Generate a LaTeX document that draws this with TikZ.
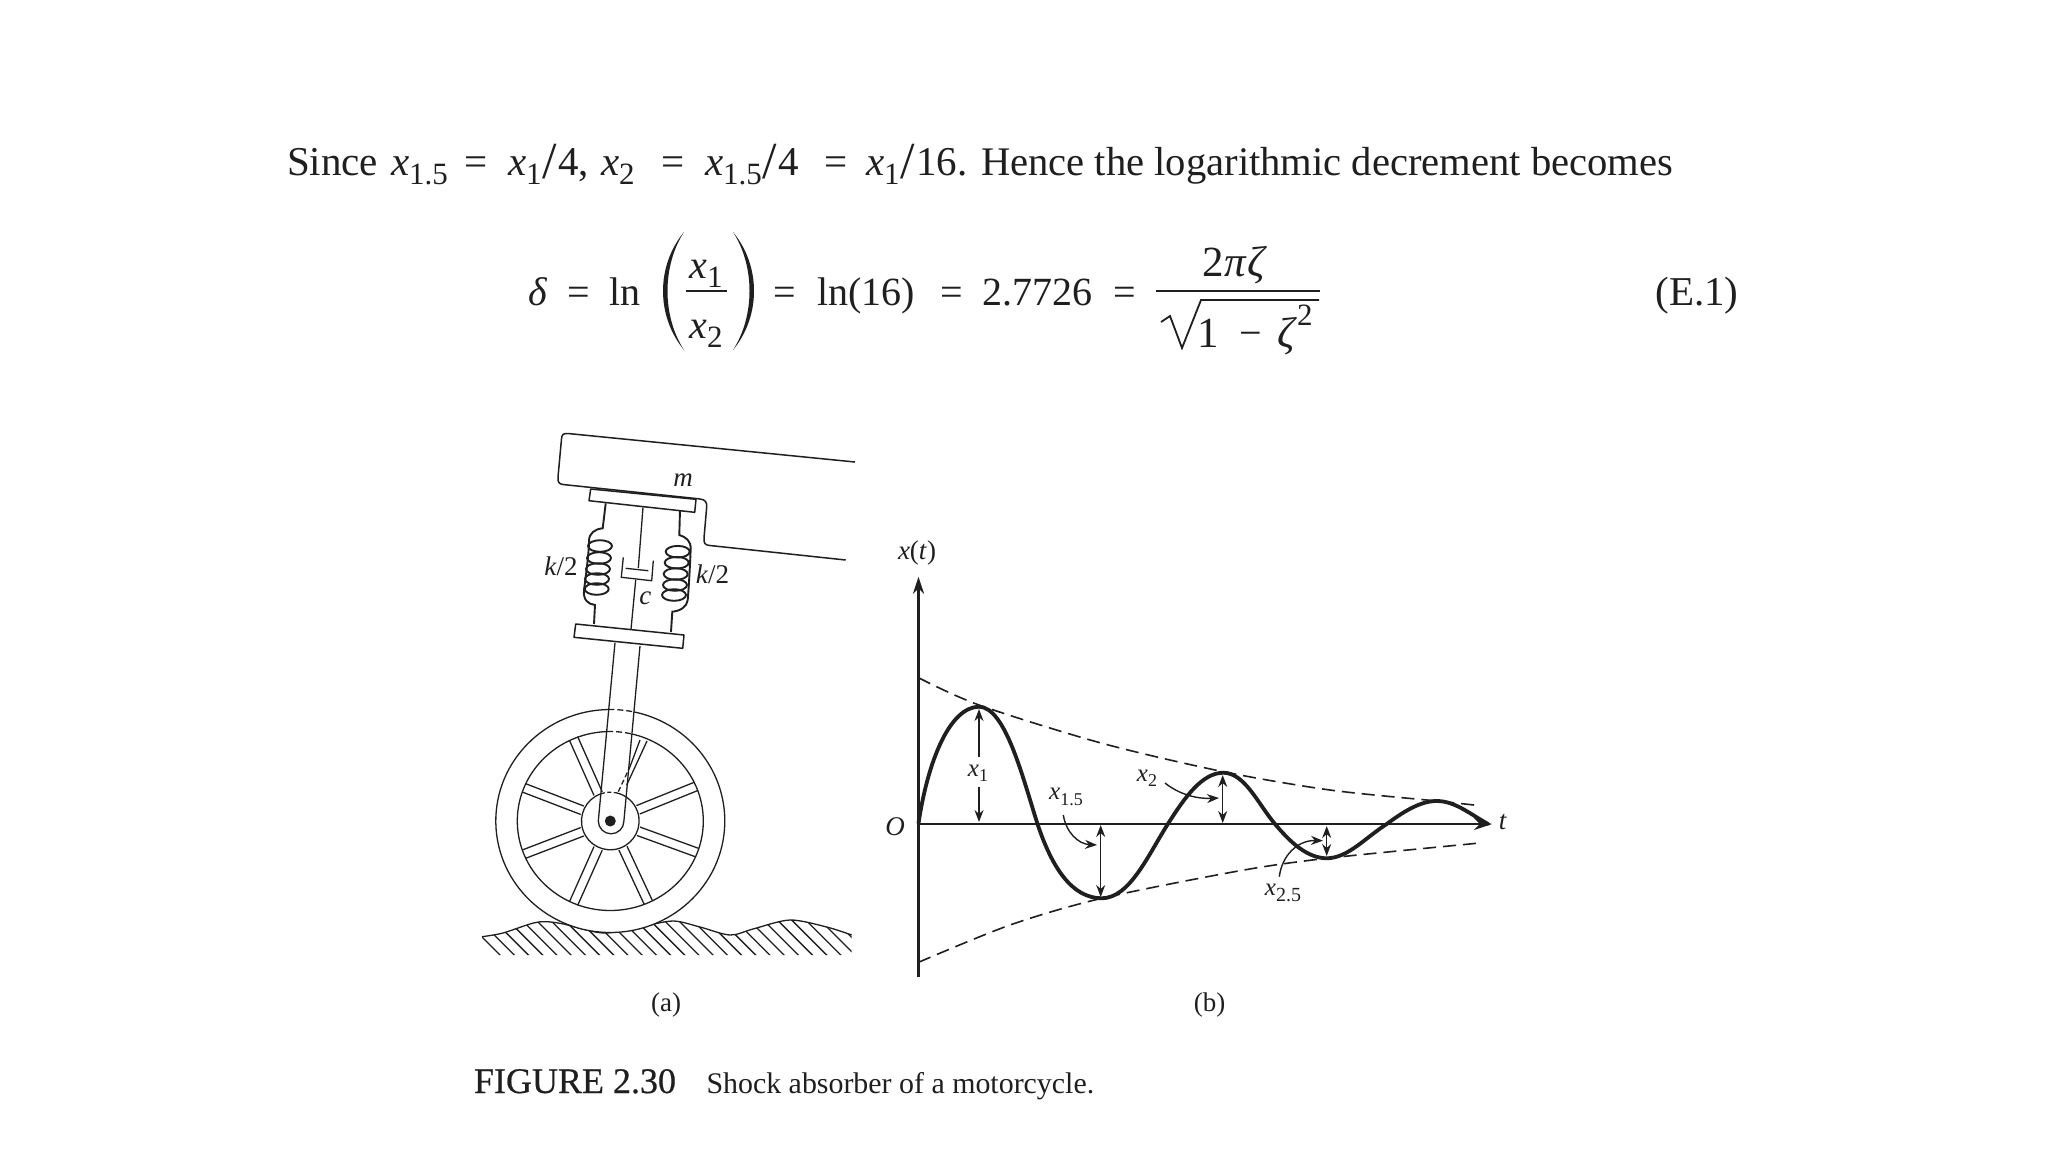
\documentclass[tikz,border=0pt]{standalone}
\usepackage{fontspec}
\setmainfont{Liberation Serif}
\usetikzlibrary{arrows.meta,calc}
\newcommand{\vi}[1]{\textit{#1}}
\newcommand{\fsz}[1]{\fontsize{#1}{#1}\selectfont}
\newcommand{\lsub}[1]{\raisebox{-0.24em}{\fontsize{31}{31}\selectfont #1}}
\newcommand{\bsl}{\kern1pt\raisebox{-0.09em}{\fontsize{52}{52}\selectfont /}\kern1pt}
\newcommand{\gsub}[1]{\raisebox{-0.22em}{\fontsize{18}{18}\selectfont #1}}
\definecolor{ink}{gray}{0.12}
\tikzset{
  every node/.style={inner sep=0pt,outer sep=0pt,text=ink},
  body/.style={draw=ink,line width=1.5pt,line join=round},
  spr/.style={draw=ink,line width=1.9pt},
  thin line/.style={draw=ink,line width=1.3pt},
  maintxt/.style={font=\fsz{41},anchor=base west},
  eqtxt/.style={font=\fsz{40},anchor=base},
  eqsm/.style={font=\fsz{40},anchor=base},
  lab/.style={font=\fsz{27}},
  glab/.style={font=\fsz{25}},
  subcap/.style={font=\fsz{27}},
  axisline/.style={draw=ink,line width=2.8pt},
  resp/.style={draw=ink,line width=3.8pt},
  env/.style={draw=ink,line width=1.6pt,dash pattern=on 13pt off 7pt},
  dim/.style={draw=ink,line width=1.4pt,{Stealth[length=12pt,width=9pt]}-{Stealth[length=12pt,width=9pt]}},
  dimtip/.style={draw=ink,line width=1.4pt,-{Stealth[length=12pt,width=9pt]}},
  rulerm/.style={draw=ink,line width=1.8pt},
  wheelarc/.style={x radius=114.5,y radius=111.5},
  rimarc/.style={x radius=93,y radius=89.5},
}
\begin{document}
\begin{tikzpicture}[x=1pt,y=-1pt]
\useasboundingbox (0,0) rectangle (2048,1152);
\fill[white] (0,0) rectangle (2048,1152);
% text
\node[maintxt] (since) at (287,175) {Since};
\node[maintxt] (t1) at (391,175) {\vi{x}\lsub{1.5}};
\node[eqtxt,font=\fsz{41}] (e1) at (476,175) {=};
\node[maintxt] (t2) at (508,175) {\vi{x}\lsub{1}\bsl 4,};
\node[maintxt] (t3) at (601,175) {\vi{x}\lsub{2}};
\node[eqtxt,font=\fsz{41}] (e2) at (673,175) {=};
\node[maintxt] (t4) at (705,175) {\vi{x}\lsub{1.5}\bsl 4};
\node[eqtxt,font=\fsz{41}] (e3) at (836,175) {=};
\node[maintxt] (t5) at (866,175) {\vi{x}\lsub{1}\bsl 16.};
\node[maintxt,font=\fsz{40.6}] (hence) at (981,175) {Hence the logarithmic decrement becomes};
\node[eqtxt] (delta) at (538,305) {\vi{δ}};
\node[eqtxt] (eqa) at (579,305) {=};
\node[eqtxt] (lna) at (625,305) {ln};
\node[eqsm] (xa) at (706,278) {\vi{x}\lsub{1}};
\node[eqsm] (xb) at (706,338) {\vi{x}\lsub{2}};
\draw[rulerm] (686,291) -- (727,291);
\fill[ink] (684,232) .. controls (656,266) and (656,316) .. (684,350) .. controls (662,316) and (662,266) .. (684,232) -- cycle;
\fill[ink] (733,232) .. controls (761,266) and (761,316) .. (733,350) .. controls (755,316) and (755,266) .. (733,232) -- cycle;
\node[eqtxt] (eqb) at (785,305) {=};
\node[eqtxt] (ln16) at (866,305) {ln(16)};
\node[eqtxt] (eqc) at (952,305) {=};
\node[eqtxt] (val) at (1037,305) {2.7726};
\node[eqtxt] (eqd) at (1125,305) {=};
\node[eqtxt,font=\fsz{43}] (num) at (1235,276) {2\vi{π}\kern1pt\vi{ζ}};
\draw[rulerm] (1156,291) -- (1320,291);
\draw[rulerm,line join=miter] (1161,322) -- (1170,316) -- (1182,348) -- (1201,300) -- (1319,300);
\node[eqtxt,font=\fsz{43}] (one) at (1208,347) {1};
\node[eqtxt] (minus) at (1251,346) {\,−\,};
\node[eqtxt,font=\fsz{43}] (zeta) at (1295,347) {\vi{ζ}\raisebox{0.5em}{\fsz{31}2}};
\node[eqtxt,font=\fsz{41}] (eqn) at (1697,305) {(E.1)};
% ground
\begin{scope}
\clip plot[smooth] coordinates {(482,936.7) (503,933) (536.7,922.3) (560,923.3) (603,933) (640,927) (673,921) (700,927) (730,935) (753,929) (790,920) (826.7,927) (851.7,935)} -- (851.7,955) -- (482,955) -- cycle;
\foreach \i in {0,...,28} {
  \draw[thin line] ({460+14.2*\i},915) -- ({505+14.2*\i},960);
}
\end{scope}
\draw[thin line] plot[smooth] coordinates {(482,936.7) (503,933) (536.7,922.3) (560,923.3) (603,933) (640,927) (673,921) (700,927) (730,935) (753,929) (790,920) (826.7,927) (851.7,935)};
% wheel
\coordinate (wc) at (610.3,821);
\fill[white] (wc) ellipse[x radius=114.5,y radius=111.5];
\foreach \a in {22,114,159,201,246,295,340} {
  \draw[thin line] (wc) ++ ({cos(\a)*30+sin(\a)*4.5},{-sin(\a)*30+cos(\a)*4.5}) -- ++ ({cos(\a)*(60+3*cos(\a)*cos(\a))},{-sin(\a)*(60+3*cos(\a)*cos(\a))});
  \draw[thin line] (wc) ++ ({cos(\a)*30-sin(\a)*4.5},{-sin(\a)*30-cos(\a)*4.5}) -- ++ ({cos(\a)*(60+3*cos(\a)*cos(\a))},{-sin(\a)*(60+3*cos(\a)*cos(\a))});
}
\draw[thin line] (626.7,785) -- (647,741);
\draw[thin line] (630,766.7) -- (640,740);
\draw[thin line,dash pattern=on 5pt off 3pt] (618.3,791.7) -- (630,766.7);
\draw[thin line] ($(wc)+({cos(91)*114.5},{-sin(91)*111.5})$) arc[start angle=-91,end angle=-438,wheelarc];
\draw[thin line,dash pattern=on 6pt off 3pt] ($(wc)+({cos(91)*114.5},{-sin(91)*111.5})$) arc[start angle=-91,end angle=-78,wheelarc];
\draw[thin line] ($(wc)+({cos(92)*93},{-sin(92)*89.5})$) arc[start angle=-92,end angle=-436.5,rimarc];
\draw[thin line,dash pattern=on 6pt off 3pt] ($(wc)+({cos(92)*93},{-sin(92)*89.5})$) arc[start angle=-92,end angle=-76.5,rimarc];
\draw[thin line] ($(wc)+(109:28.8 and -28.8)$) arc[start angle=-109,end angle=-437,radius=28.8];
\draw[thin line,dash pattern=on 4pt off 2.5pt] ($(wc)+(109:28.8 and -28.8)$) arc[start angle=-109,end angle=-77,radius=28.8];
\fill[ink] (wc) circle[radius=5.5];
% stem
\draw[thin line] (615,642.7) -- (598.3,821) arc[start angle=180,end angle=0,radius=12.8] -- (640,646);
% plates
\draw[body,fill=white] (590.7,489) -- (696,499.3) -- (694.7,512.3) -- (589,500.7) -- cycle;
\draw[body,fill=white] (575.7,624) -- (684,635) -- (682.7,648.3) -- (574,637.3) -- cycle;
% body
\draw[body] (855,462) -- (568,433.5) .. controls (563,433) and (561.7,435) .. (561.5,439) -- (558,477) .. controls (557.5,482) and (559,484) .. (563,484.5) -- (696,498.5) -- (700,499) .. controls (705,499.5) and (707,502) .. (706.7,507) -- (704,538) .. controls (703.6,543) and (705,545) .. (709,545.4) -- (845.7,560);
\node[lab] (mlabel) at (683,480) {\vi{m}};
% left spring
\draw[spr] (605.7,503.3) -- (602.7,528.3) .. controls (595,529) and (589,533) .. (589,541) .. controls (589,552) and (586,575) .. (584,590) .. controls (583,600) and (588,604) .. (595,605) -- (594,624);
\foreach \p in {(600,546),(599,558),(598,569),(597,579),(596.7,589)} {
  \draw[spr] \p ellipse[x radius=12,y radius=5.8];
}
% right spring
\draw[spr] (680,510) -- (679.3,535) .. controls (686,537) and (691,541) .. (690.7,549) .. controls (690,565) and (689,585) .. (687.7,600) .. controls (687,607) and (680,611) .. (672.3,611.7) -- (671,632);
\foreach \p in {(677.7,551.7),(676.7,562.7),(675.7,574),(675,585),(674,595)} {
  \draw[spr] \p ellipse[x radius=12,y radius=5.8];
}
% damper
\draw[thin line] (643,507.3) -- (638.3,568);
\draw[thin line] (625.7,568.3) -- (648.3,570.7);
\draw[thin line] (623.3,557.3) -- (621.3,577.3) -- (651.7,580.7) -- (653.3,560.7);
\draw[thin line] (635.7,580) -- (631,629.3);
\node[lab] (kl) at (561,566) {\vi{k}/2};
\node[lab] (kr) at (712.5,574) {\vi{k}/2};
\node[lab] (cl) at (645.3,598) {\vi{c}};
% graph
\draw[env] plot[smooth] coordinates {(918.5,677.7) (979,705) (1101,743) (1223.3,771.7) (1330,790) (1436.7,801) (1476.7,805.3)};
\draw[env] plot[smooth] coordinates {(918.5,962.3) (1010,925) (1101.7,898.3) (1240,870.7) (1326.7,858.3) (1476.7,843.3)};
\draw[axisline,-{Stealth[length=17pt,width=11pt]}] (918.5,976.7) -- (918.5,576.7);
\coordinate (tend) at (1492,824);
\draw[axisline,-{Stealth[length=18pt,width=12pt]}] (918.5,824) -- (tend);
\draw[resp,line cap=round] (918.5,823.3) .. controls (928,760) and (950,707) .. (979,706.7)
 .. controls (1005,707) and (1022,775) .. (1037.3,823.3)
 .. controls (1052,868) and (1072,898) .. (1101.7,898.3)
 .. controls (1130,898) and (1148,855) .. (1168.3,823.3)
 .. controls (1185,797) and (1202,773) .. (1223.3,772.7)
 .. controls (1245,773) and (1258,804) .. (1275,824)
 .. controls (1290,842) and (1307,858) .. (1326.7,858.3)
 .. controls (1348,858) and (1365,838) .. (1386.7,824)
 .. controls (1403,812) and (1420,801) .. (1436.7,801)
 .. controls (1455,801) and (1470,814) .. (1488,824);
\draw[dimtip] (979,756.7) -- (979,709);
\draw[dimtip] (979,786.7) -- (979,822);
\draw[dim] (1100.7,825) -- (1100.7,897);
\draw[dim] (1222.7,775) -- (1222.7,823);
\draw[dim] (1326.7,826) -- (1326.7,856);
\draw[dimtip] (1063.3,815) .. controls (1066,832) and (1078,844) .. (1097,845);
\draw[dimtip] (1165,783) .. controls (1180,795) and (1198,799) .. (1219,798);
\draw[dimtip] (1279.3,876.7) .. controls (1282,855) and (1298,840) .. (1323,840.7);
\node[glab] (xonel) at (978,773) {\vi{x}\gsub{1}};
\node[glab] (xohl) at (1066,797) {\vi{x}\gsub{1.5}};
\node[glab] (xtwl) at (1147,778) {\vi{x}\gsub{2}};
\node[glab] (xthl) at (1283,893) {\vi{x}\raisebox{-0.22em}{\fontsize{20}{20}\selectfont 2.5}};
\node[lab] (tl) at (1503,822) {\vi{t}};
\node[lab] (ol) at (895,827) {\vi{O}};
\node[lab] (xt) at (917,553) {\vi{x}(\vi{t})};
\node[subcap] (capa) at (666,1005) {(a)};
\node[subcap] (capb) at (1209.5,1005) {(b)};
\node[font=\fsz{36},anchor=base west] (fig) at (474,1093) {\addfontfeatures{FakeBold=0.5}FIGURE 2.30};
\node[font=\fsz{29.9},anchor=base west] (captxt) at (706.5,1093) {Shock absorber of a motorcycle.};
\end{tikzpicture}
\end{document}
